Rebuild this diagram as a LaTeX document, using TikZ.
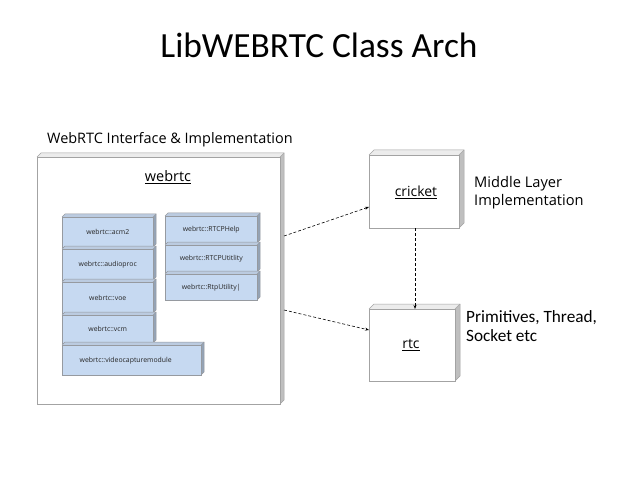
\documentclass[tikz,border=0pt]{standalone}
\usepackage{fontspec}
\setmainfont{Carlito}
\newfontfamily\lblfont{Open Sans}
\usetikzlibrary{arrows.meta}
\definecolor{boxfill}{HTML}{C6D9F1}
\newcommand{\tdbox}[7]{% name, x1,y1,x2,y2, fill, depth
  \fill[#6!75!black] (#4,#3) -- (#4+#7,#3-#7) -- (#4+#7,#5-#7) -- (#4,#5) -- cycle;
  \fill[#6!85!gray] (#2,#3) -- (#2+#7,#3-#7) -- (#4+#7,#3-#7) -- (#4,#3) -- cycle;
  \draw[line width=0.5bp,draw=#6!40!black!60] (#2,#3) -- (#2+#7,#3-#7) -- (#4+#7,#3-#7) -- (#4+#7,#5-#7) -- (#4,#5);
  \draw[line width=0.5bp,draw=#6!40!black!60] (#4,#3) -- (#4+#7,#3-#7);
  \node[draw=#6!40!black!60,line width=0.5bp,fill=#6,inner sep=0pt,minimum width={(#4-#2)*1bp},minimum height={(#5-#3)*1bp},anchor=north west] (#1) at (#2,#3) {};
}
\tikzset{
  small/.style={font=\lblfont\fontsize{6.9}{8}\selectfont,text=black!85},
  dep/.style={densely dashed,line width=0.6bp,-{Stealth[length=4bp,width=3bp]}},
  ann/.style={font=\lblfont\fontsize{14.7}{18}\selectfont,align=left,anchor=north west,inner sep=0pt}
}
\begin{document}
\begin{tikzpicture}[x=1bp,y=-1bp]
\useasboundingbox (0,0) rectangle (638,478);
\node[font=\fontsize{35.5}{40}\selectfont] (title) at (319,45) {LibWEBRTC Class Arch};
\node[font=\lblfont\fontsize{14.5}{17}\selectfont,anchor=west,inner sep=0pt] (wlab) at (47,140) {WebRTC Interface \& Implementation};
\tdbox{web}{37}{157}{280}{404}{white}{4}
\node[font=\lblfont\fontsize{14.5}{17}\selectfont] (webt) at (168,177) {\underline{webrtc}};
\tdbox{acm}{62}{217}{153}{247}{boxfill}{3}
\tdbox{aud}{62}{249}{153}{280}{boxfill}{3}
\tdbox{voe}{62}{282}{153}{313}{boxfill}{3}
\tdbox{vcm}{62}{315}{153}{343}{boxfill}{3}
\tdbox{vid}{62}{345}{201}{375}{boxfill}{3}
\tdbox{hlp}{165}{216}{257}{243}{boxfill}{3}
\tdbox{utl}{165}{245}{257}{272}{boxfill}{3}
\tdbox{rtp}{165}{274}{257}{300}{boxfill}{3}
\node[small] at (acm) {webrtc::acm2};
\node[small] at (aud) {webrtc::audioproc};
\node[small] at (voe) {webrtc::voe};
\node[small] at (vcm) {webrtc::vcm};
\node[small,xshift=-6bp] at (vid) {webrtc::videocapturemodule};
\node[small] at (hlp) {webrtc::RTCPHelp};
\node[small] at (utl) {webrtc::RTCPUtitlity};
\node[small] at (rtp) {webrtc::RtpUtility|};
\tdbox{cri}{369}{155}{459}{228}{white}{5}
\tdbox{rtc}{369}{309}{455}{381}{white}{5}
\node[font=\lblfont\fontsize{14}{16}\selectfont] at (416,192) {\underline{cricket}};
\node[font=\lblfont\fontsize{14}{16}\selectfont] at (411,345) {\underline{rtc}};
\node[ann] (ml) at (474,176) {Middle Layer\\Implementation};
\node[ann,font=\fontsize{17.3}{19}\selectfont] (pr) at (466,310) {Primitives, Thread,\\Socket etc};
\coordinate (s1) at (284,236);
\coordinate (s2) at (284,310);
\draw[dep] (s1) -- (cri.west |- 0,207);
\draw[dep] (s2) -- (rtc.west |- 0,330);
\draw[dep] (cri.south -| 415,0) -- (rtc.north -| 415,0);
\end{tikzpicture}
\end{document}
